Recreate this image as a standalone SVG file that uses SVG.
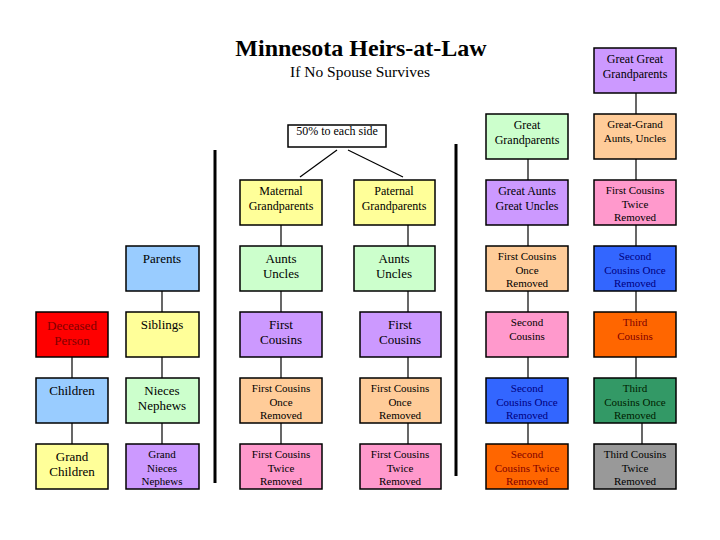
<svg xmlns="http://www.w3.org/2000/svg" width="720" height="540" viewBox="0 0 720 540">
<style>
.b{stroke:#000;stroke-width:1.5}
.t{font-family:"Liberation Serif","Times New Roman",serif;text-anchor:middle;fill:#000}
.s11{font-size:11px}.s12{font-size:12px}.s13{font-size:13px}
.c{stroke:#000;stroke-width:1.2;fill:none}
.dv{stroke:#000;stroke-width:3}
.mr{fill:#800000}.nv{fill:#000080}
</style>
<rect width="720" height="540" fill="#fff"/>
<text class="t" x="361" y="56" style="font-size:24px;font-weight:bold">Minnesota Heirs-at-Law</text>
<text class="t" x="360" y="77" style="font-size:15.5px">If No Spouse Survives</text>
<g id="dividers">
<line class="dv" x1="215" y1="150" x2="215" y2="483"/>
<line class="dv" x1="456" y1="144" x2="456" y2="476"/>
</g>
<g id="connectors">
<line class="c" x1="72" y1="357" x2="72" y2="378"/>
<line class="c" x1="72" y1="423" x2="72" y2="444"/>
<line class="c" x1="162" y1="291" x2="162" y2="312"/>
<line class="c" x1="162" y1="357" x2="162" y2="378"/>
<line class="c" x1="162" y1="423" x2="162" y2="444"/>
<line class="c" x1="337" y1="150" x2="300" y2="177"/>
<line class="c" x1="348" y1="150" x2="403" y2="177"/>
<line class="c" x1="281" y1="225" x2="281" y2="246"/>
<line class="c" x1="281" y1="291" x2="281" y2="312"/>
<line class="c" x1="281" y1="357" x2="281" y2="378"/>
<line class="c" x1="281" y1="423" x2="281" y2="444"/>
<line class="c" x1="408" y1="225" x2="408" y2="246"/>
<line class="c" x1="408" y1="291" x2="408" y2="312"/>
<line class="c" x1="408" y1="357" x2="408" y2="378"/>
<line class="c" x1="408" y1="423" x2="408" y2="444"/>
<line class="c" x1="528" y1="159" x2="528" y2="180"/>
<line class="c" x1="528" y1="225" x2="528" y2="246"/>
<line class="c" x1="528" y1="291" x2="528" y2="312"/>
<line class="c" x1="528" y1="357" x2="528" y2="378"/>
<line class="c" x1="528" y1="423" x2="528" y2="444"/>
<line class="c" x1="636" y1="93" x2="636" y2="114"/>
<line class="c" x1="636" y1="159" x2="636" y2="180"/>
<line class="c" x1="636" y1="225" x2="636" y2="246"/>
<line class="c" x1="636" y1="291" x2="636" y2="312"/>
<line class="c" x1="636" y1="357" x2="636" y2="378"/>
<line class="c" x1="642" y1="423" x2="642" y2="444"/>
</g>
<g id="split">
<rect class="b" x="288" y="125" width="98" height="22" fill="#fff"/>
<text class="t s12" x="337" y="135">50% to each side</text>
</g>
<g id="deceased">
<rect class="b" x="36" y="312" width="72" height="45" fill="#FF0000"/>
<text class="t s13 mr" x="72" y="330">Deceased</text>
<text class="t s13 mr" x="72" y="345">Person</text>
</g>
<g id="children">
<rect class="b" x="36" y="378" width="72" height="45" fill="#99CCFF"/>
<text class="t s13" x="72" y="395">Children</text>
</g>
<g id="grandchildren">
<rect class="b" x="36" y="444" width="72" height="45" fill="#FFFF99"/>
<text class="t s13" x="72" y="461">Grand</text>
<text class="t s13" x="72" y="476">Children</text>
</g>
<g id="parents">
<rect class="b" x="126" y="246" width="73" height="45" fill="#99CCFF"/>
<text class="t s13" x="162" y="263">Parents</text>
</g>
<g id="siblings">
<rect class="b" x="126" y="312" width="73" height="45" fill="#FFFF99"/>
<text class="t s13" x="162" y="329">Siblings</text>
</g>
<g id="nieces">
<rect class="b" x="126" y="378" width="73" height="45" fill="#CCFFCC"/>
<text class="t s13" x="162" y="395">Nieces</text>
<text class="t s13" x="162" y="410">Nephews</text>
</g>
<g id="grandnieces">
<rect class="b" x="126" y="444" width="73" height="45" fill="#CC99FF"/>
<text class="t s11" x="162" y="458">Grand</text>
<text class="t s11" x="162" y="472">Nieces</text>
<text class="t s11" x="162" y="485">Nephews</text>
</g>
<g id="maternal-gp">
<rect class="b" x="240" y="180" width="82" height="45" fill="#FFFF99"/>
<text class="t s12" x="281" y="195">Maternal</text>
<text class="t s12" x="281" y="210">Grandparents</text>
</g>
<g id="maternal-au">
<rect class="b" x="240" y="246" width="82" height="45" fill="#CCFFCC"/>
<text class="t s13" x="281" y="263">Aunts</text>
<text class="t s13" x="281" y="278">Uncles</text>
</g>
<g id="maternal-fc">
<rect class="b" x="240" y="312" width="82" height="45" fill="#CC99FF"/>
<text class="t s13" x="281" y="329">First</text>
<text class="t s13" x="281" y="344">Cousins</text>
</g>
<g id="maternal-fc1">
<rect class="b" x="240" y="378" width="82" height="45" fill="#FFCC99"/>
<text class="t s11" x="281" y="392">First Cousins</text>
<text class="t s11" x="281" y="406">Once</text>
<text class="t s11" x="281" y="419">Removed</text>
</g>
<g id="maternal-fc2">
<rect class="b" x="240" y="444" width="82" height="45" fill="#FF99CC"/>
<text class="t s11" x="281" y="458">First Cousins</text>
<text class="t s11" x="281" y="472">Twice</text>
<text class="t s11" x="281" y="485">Removed</text>
</g>
<g id="paternal-gp">
<rect class="b" x="354" y="180" width="81" height="45" fill="#FFFF99"/>
<text class="t s12" x="394" y="195">Paternal</text>
<text class="t s12" x="394" y="210">Grandparents</text>
</g>
<g id="paternal-au">
<rect class="b" x="354" y="246" width="81" height="45" fill="#CCFFCC"/>
<text class="t s13" x="394" y="263">Aunts</text>
<text class="t s13" x="394" y="278">Uncles</text>
</g>
<g id="paternal-fc">
<rect class="b" x="360" y="312" width="81" height="45" fill="#CC99FF"/>
<text class="t s13" x="400" y="329">First</text>
<text class="t s13" x="400" y="344">Cousins</text>
</g>
<g id="paternal-fc1">
<rect class="b" x="360" y="378" width="81" height="45" fill="#FFCC99"/>
<text class="t s11" x="400" y="392">First Cousins</text>
<text class="t s11" x="400" y="406">Once</text>
<text class="t s11" x="400" y="419">Removed</text>
</g>
<g id="paternal-fc2">
<rect class="b" x="360" y="444" width="81" height="45" fill="#FF99CC"/>
<text class="t s11" x="400" y="458">First Cousins</text>
<text class="t s11" x="400" y="472">Twice</text>
<text class="t s11" x="400" y="485">Removed</text>
</g>
<g id="great-gp">
<rect class="b" x="486" y="114" width="82" height="45" fill="#CCFFCC"/>
<text class="t s12" x="527" y="129">Great</text>
<text class="t s12" x="527" y="144">Grandparents</text>
</g>
<g id="great-au">
<rect class="b" x="486" y="180" width="82" height="45" fill="#CC99FF"/>
<text class="t s12" x="527" y="195">Great Aunts</text>
<text class="t s12" x="527" y="210">Great Uncles</text>
</g>
<g id="fc1-5">
<rect class="b" x="486" y="246" width="82" height="45" fill="#FFCC99"/>
<text class="t s11" x="527" y="260">First Cousins</text>
<text class="t s11" x="527" y="274">Once</text>
<text class="t s11" x="527" y="287">Removed</text>
</g>
<g id="sc-5">
<rect class="b" x="486" y="312" width="82" height="45" fill="#FF99CC"/>
<text class="t s11" x="527" y="326">Second</text>
<text class="t s11" x="527" y="340">Cousins</text>
</g>
<g id="sc1-5">
<rect class="b" x="486" y="378" width="82" height="45" fill="#3366FF"/>
<text class="t s11 nv" x="527" y="392">Second</text>
<text class="t s11 nv" x="527" y="406">Cousins Once</text>
<text class="t s11 nv" x="527" y="419">Removed</text>
</g>
<g id="sc2-5">
<rect class="b" x="486" y="444" width="82" height="45" fill="#FF6600"/>
<text class="t s11 mr" x="527" y="458">Second</text>
<text class="t s11 mr" x="527" y="472">Cousins Twice</text>
<text class="t s11 mr" x="527" y="485">Removed</text>
</g>
<g id="great-great-gp">
<rect class="b" x="594" y="48" width="82" height="45" fill="#CC99FF"/>
<text class="t s12" x="635" y="63">Great Great</text>
<text class="t s12" x="635" y="78">Grandparents</text>
</g>
<g id="gg-au">
<rect class="b" x="594" y="114" width="82" height="45" fill="#FFCC99"/>
<text class="t s11" x="635" y="128">Great-Grand</text>
<text class="t s11" x="635" y="142">Aunts, Uncles</text>
</g>
<g id="fc2-6">
<rect class="b" x="594" y="180" width="82" height="45" fill="#FF99CC"/>
<text class="t s11" x="635" y="194">First Cousins</text>
<text class="t s11" x="635" y="208">Twice</text>
<text class="t s11" x="635" y="221">Removed</text>
</g>
<g id="sc1-6">
<rect class="b" x="594" y="246" width="82" height="45" fill="#3366FF"/>
<text class="t s11 nv" x="635" y="260">Second</text>
<text class="t s11 nv" x="635" y="274">Cousins Once</text>
<text class="t s11 nv" x="635" y="287">Removed</text>
</g>
<g id="tc-6">
<rect class="b" x="594" y="312" width="82" height="45" fill="#FF6600"/>
<text class="t s11 mr" x="635" y="326">Third</text>
<text class="t s11 mr" x="635" y="340">Cousins</text>
</g>
<g id="tc1-6">
<rect class="b" x="594" y="378" width="82" height="45" fill="#339966"/>
<text class="t s11" x="635" y="392" style="fill:#002000">Third</text>
<text class="t s11" x="635" y="406" style="fill:#002000">Cousins Once</text>
<text class="t s11" x="635" y="419" style="fill:#002000">Removed</text>
</g>
<g id="tc2-6">
<rect class="b" x="594" y="444" width="82" height="45" fill="#999999"/>
<text class="t s11" x="635" y="458">Third Cousins</text>
<text class="t s11" x="635" y="472">Twice</text>
<text class="t s11" x="635" y="485">Removed</text>
</g>
</svg>
